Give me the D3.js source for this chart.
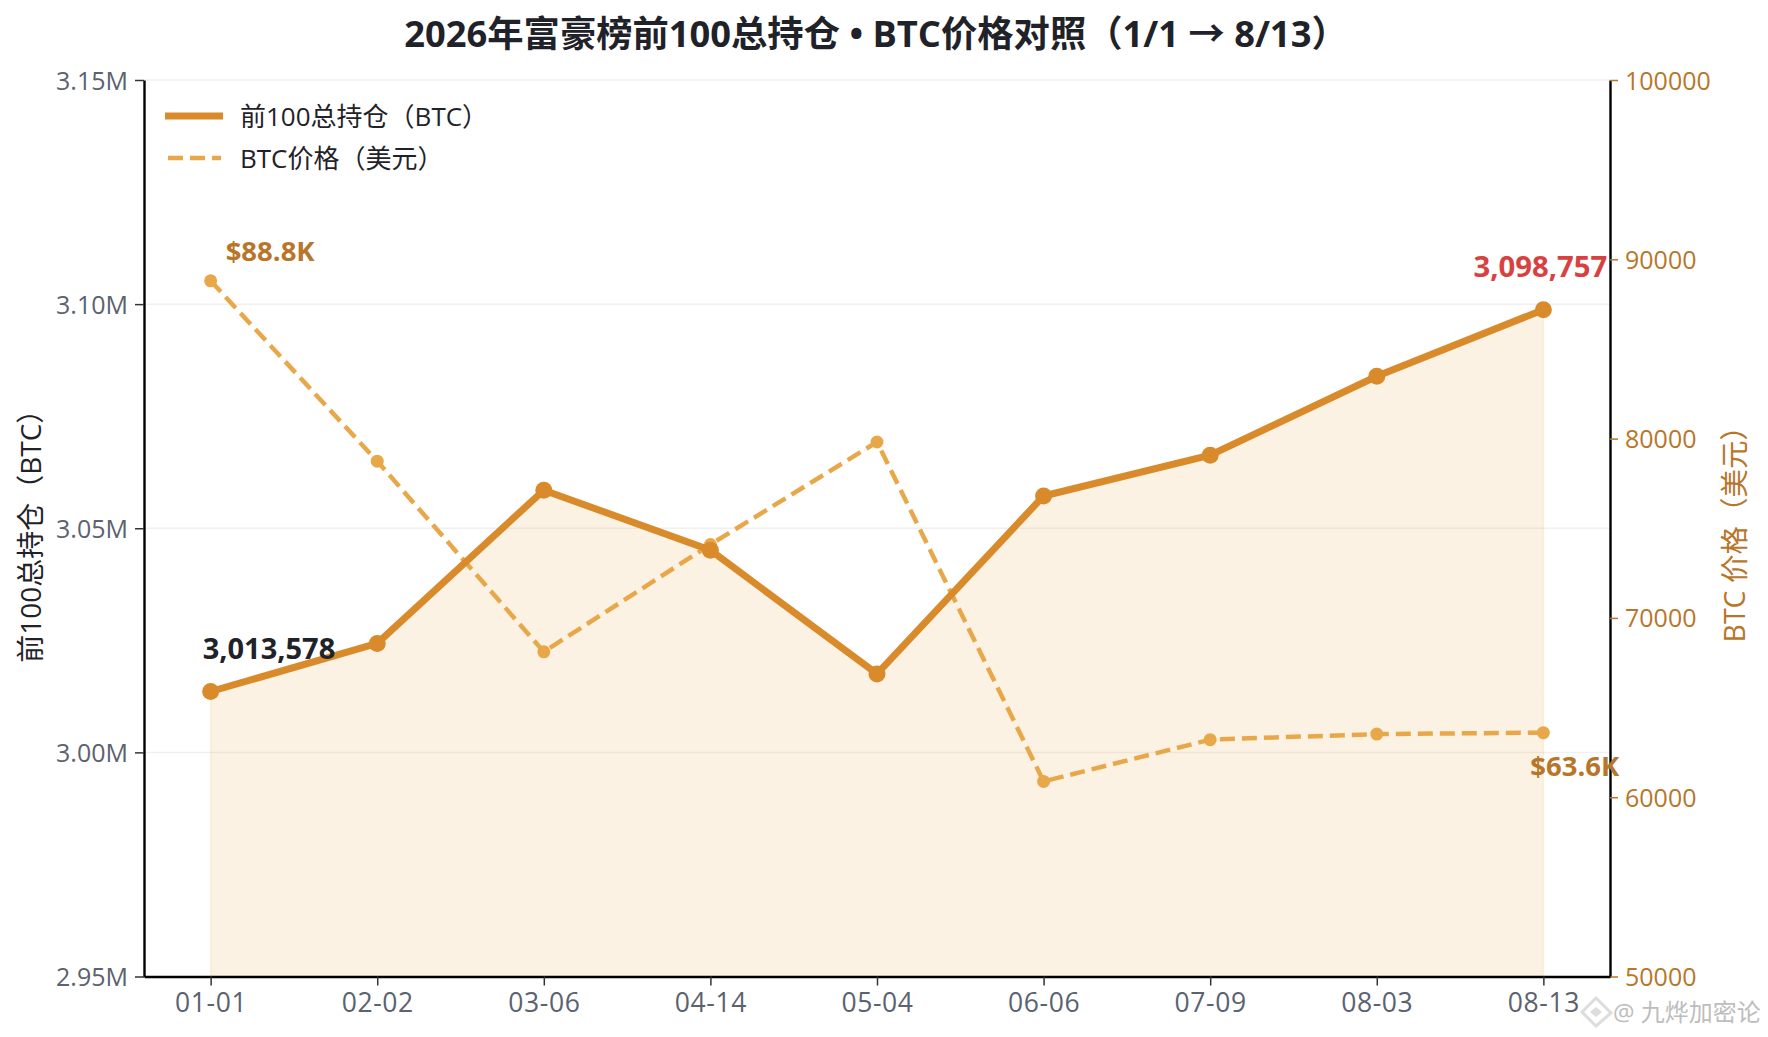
<!DOCTYPE html>
<html><head><meta charset="utf-8">
<script src="https://cdn.jsdelivr.net/npm/d3@7/dist/d3.min.js"></script>
<style>
html,body{margin:0;padding:0;background:#fff}
svg{display:block}
text{font-family:"Open Sans","Noto Sans CJK SC",sans-serif}
</style></head><body><div id="c"></div>
<script>
const dates=["01-01","02-02","03-06","04-14","05-04","06-06","07-09","08-03","08-13"];
const holdings=[3013578,3024300,3058500,3045100,3017500,3057200,3066300,3083900,3098757];
const prices=[88800,78740,68110,74090,79810,60880,63210,63520,63600];
const leftTicks=[2950000,3000000,3050000,3100000,3150000];
const rightTicks=[50000,60000,70000,80000,90000,100000];
const titleText="2026年富豪榜前100总持仓 • BTC价格对照（1/1 → 8/13）";
const legendLabels=["前100总持仓（BTC）","BTC价格（美元）"];
const cLine="#d98a2b",cFill="#e39a30",cPrice="#e8a849",cOrange="#b8762a",cRed="#d94141",cDark="#1f2329",cTick="#5b6270";

const W=1768,H=1037,L=144,R=1610,T=80,B=976.5;
const svg=d3.select("#c").append("svg").attr("width",W).attr("height",H);
const x=d3.scalePoint().domain(dates).range([L,R]).padding(0.4);
const y=d3.scaleLinear().domain([2950000,3150000]).range([B,T]);
const y2=d3.scaleLinear().domain([50000,100000]).range([B,T]);

// grid
svg.append("g").selectAll("line").data(leftTicks.slice(1)).join("line")
 .attr("x1",L).attr("x2",R).attr("y1",d=>y(d)).attr("y2",d=>y(d))
 .attr("stroke","#000").attr("stroke-opacity",0.06).attr("stroke-width",1.5);

// area
const area=d3.area().x((d,i)=>x(dates[i])).y0(B).y1(d=>y(d));
svg.append("path").datum(holdings).attr("d",area)
 .attr("fill",cFill).attr("fill-opacity",0.13).attr("stroke",cLine).attr("stroke-opacity",0.1).attr("stroke-width",1.5);

// axes
const gl=svg.append("g").attr("transform",`translate(${L},0)`).call(d3.axisLeft(y).tickValues(leftTicks).tickFormat(d=>(d/1e6).toFixed(2)+"M").tickSize(9).tickSizeOuter(0).tickPadding(7));
const gr=svg.append("g").attr("transform",`translate(${R},0)`).call(d3.axisRight(y2).tickValues(rightTicks).tickFormat(d=>String(d)).tickSize(8).tickSizeOuter(0).tickPadding(7));
const gb=svg.append("g").attr("transform",`translate(0,${B})`).call(d3.axisBottom(x).tickSize(9).tickSizeOuter(0).tickPadding(8));
[gl,gr,gb].forEach(g=>{g.select(".domain").attr("stroke","#000").attr("stroke-width",2.4);g.selectAll("text").style("font-size","25px");});
gl.selectAll("text").attr("fill",cTick).attr("dy","0.36em");gl.selectAll("line").attr("stroke","#333").attr("stroke-width",1.5);
gb.selectAll("text").attr("fill",cTick).style("font-size","26.5px").style("letter-spacing","0.6px");gb.selectAll("line").attr("stroke","#333").attr("stroke-width",1.5);
gr.selectAll("text").attr("fill",cOrange).attr("dy","0.36em");gr.selectAll("line").attr("stroke",cOrange).attr("stroke-width",1.5);

// price line
const priceLine=d3.line().x((d,i)=>x(dates[i])).y(d=>y2(d));
svg.append("path").datum(prices).attr("d",priceLine).attr("fill","none").attr("stroke",cPrice).attr("stroke-width",4.5).attr("stroke-dasharray","15,7");
svg.append("g").selectAll("circle").data(prices).join("circle")
 .attr("cx",(d,i)=>x(dates[i])).attr("cy",d=>y2(d)).attr("r",6.5).attr("fill",cPrice);

// holdings line
const holdLine=d3.line().x((d,i)=>x(dates[i])).y(d=>y(d));
svg.append("path").datum(holdings).attr("d",holdLine).attr("fill","none").attr("stroke",cLine).attr("stroke-width",7).attr("stroke-linejoin","miter");
svg.append("g").selectAll("circle").data(holdings).join("circle")
 .attr("cx",(d,i)=>x(dates[i])).attr("cy",d=>y(d)).attr("r",8.5).attr("fill",cLine);

// annotations
const fmt=d3.format(",");
const ann=(px,py,t,c,anchor,fs)=>svg.append("text").attr("x",px).attr("y",py).attr("text-anchor",anchor).attr("font-size",fs).attr("font-weight",700).attr("fill",c).text(t);
ann(x(dates[0])-8,y(holdings[0])-33,fmt(holdings[0]),cDark,"start",29);
ann(x(dates[8])+64,y(holdings[8])-33,fmt(holdings[8]),cRed,"end",29.3);
ann(x(dates[0])+15,y2(prices[0])-20,"$"+(prices[0]/1000).toFixed(1)+"K",cOrange,"start",27.5);
ann(x(dates[8])+76,y2(prices[8])+43,"$"+(prices[8]/1000).toFixed(1)+"K",cOrange,"end",27.5);

// title
svg.append("text").attr("x",876).attr("y",47).attr("text-anchor","middle").attr("font-size",36.3).attr("font-weight",700).attr("fill",cDark).text(titleText);

// axis titles
svg.append("text").attr("transform",`translate(41,${(T+B)/2+1}) rotate(-90)`).attr("text-anchor","middle").attr("font-size",28).attr("fill",cDark).text("前100总持仓（BTC）");
svg.append("text").attr("transform",`translate(1745,${(T+B)/2-1}) rotate(-90)`).attr("text-anchor","middle").attr("font-size",28.5).attr("fill",cOrange).text("BTC 价格（美元）");

// legend
const lg=svg.append("g");
lg.append("line").attr("x1",165).attr("x2",223).attr("y1",116).attr("y2",116).attr("stroke",cLine).attr("stroke-width",7);
lg.append("line").attr("x1",168).attr("x2",221).attr("y1",158).attr("y2",158).attr("stroke",cPrice).attr("stroke-width",4.5).attr("stroke-dasharray","15,7");
lg.append("text").attr("x",240).attr("y",126).attr("font-size",26).attr("fill",cDark).text(legendLabels[0]);
lg.append("text").attr("x",240).attr("y",168).attr("font-size",26).attr("fill",cDark).text(legendLabels[1]);

// watermark
const wm=svg.append("g");
wm.append("path").attr("d","M1596 998 L1611 1013 L1596 1026 L1582 1012 Z").attr("fill","none").attr("stroke","#ddd").attr("stroke-width",3);
wm.append("path").attr("d","M1596 1007 L1602 1012 L1596 1017 L1590 1012 Z").attr("fill","#ddd");
wm.append("text").attr("x",1613).attr("y",1021).attr("font-size",24).attr("fill","#bdbdbd").text("@ 九烨加密论");
</script></body></html>
